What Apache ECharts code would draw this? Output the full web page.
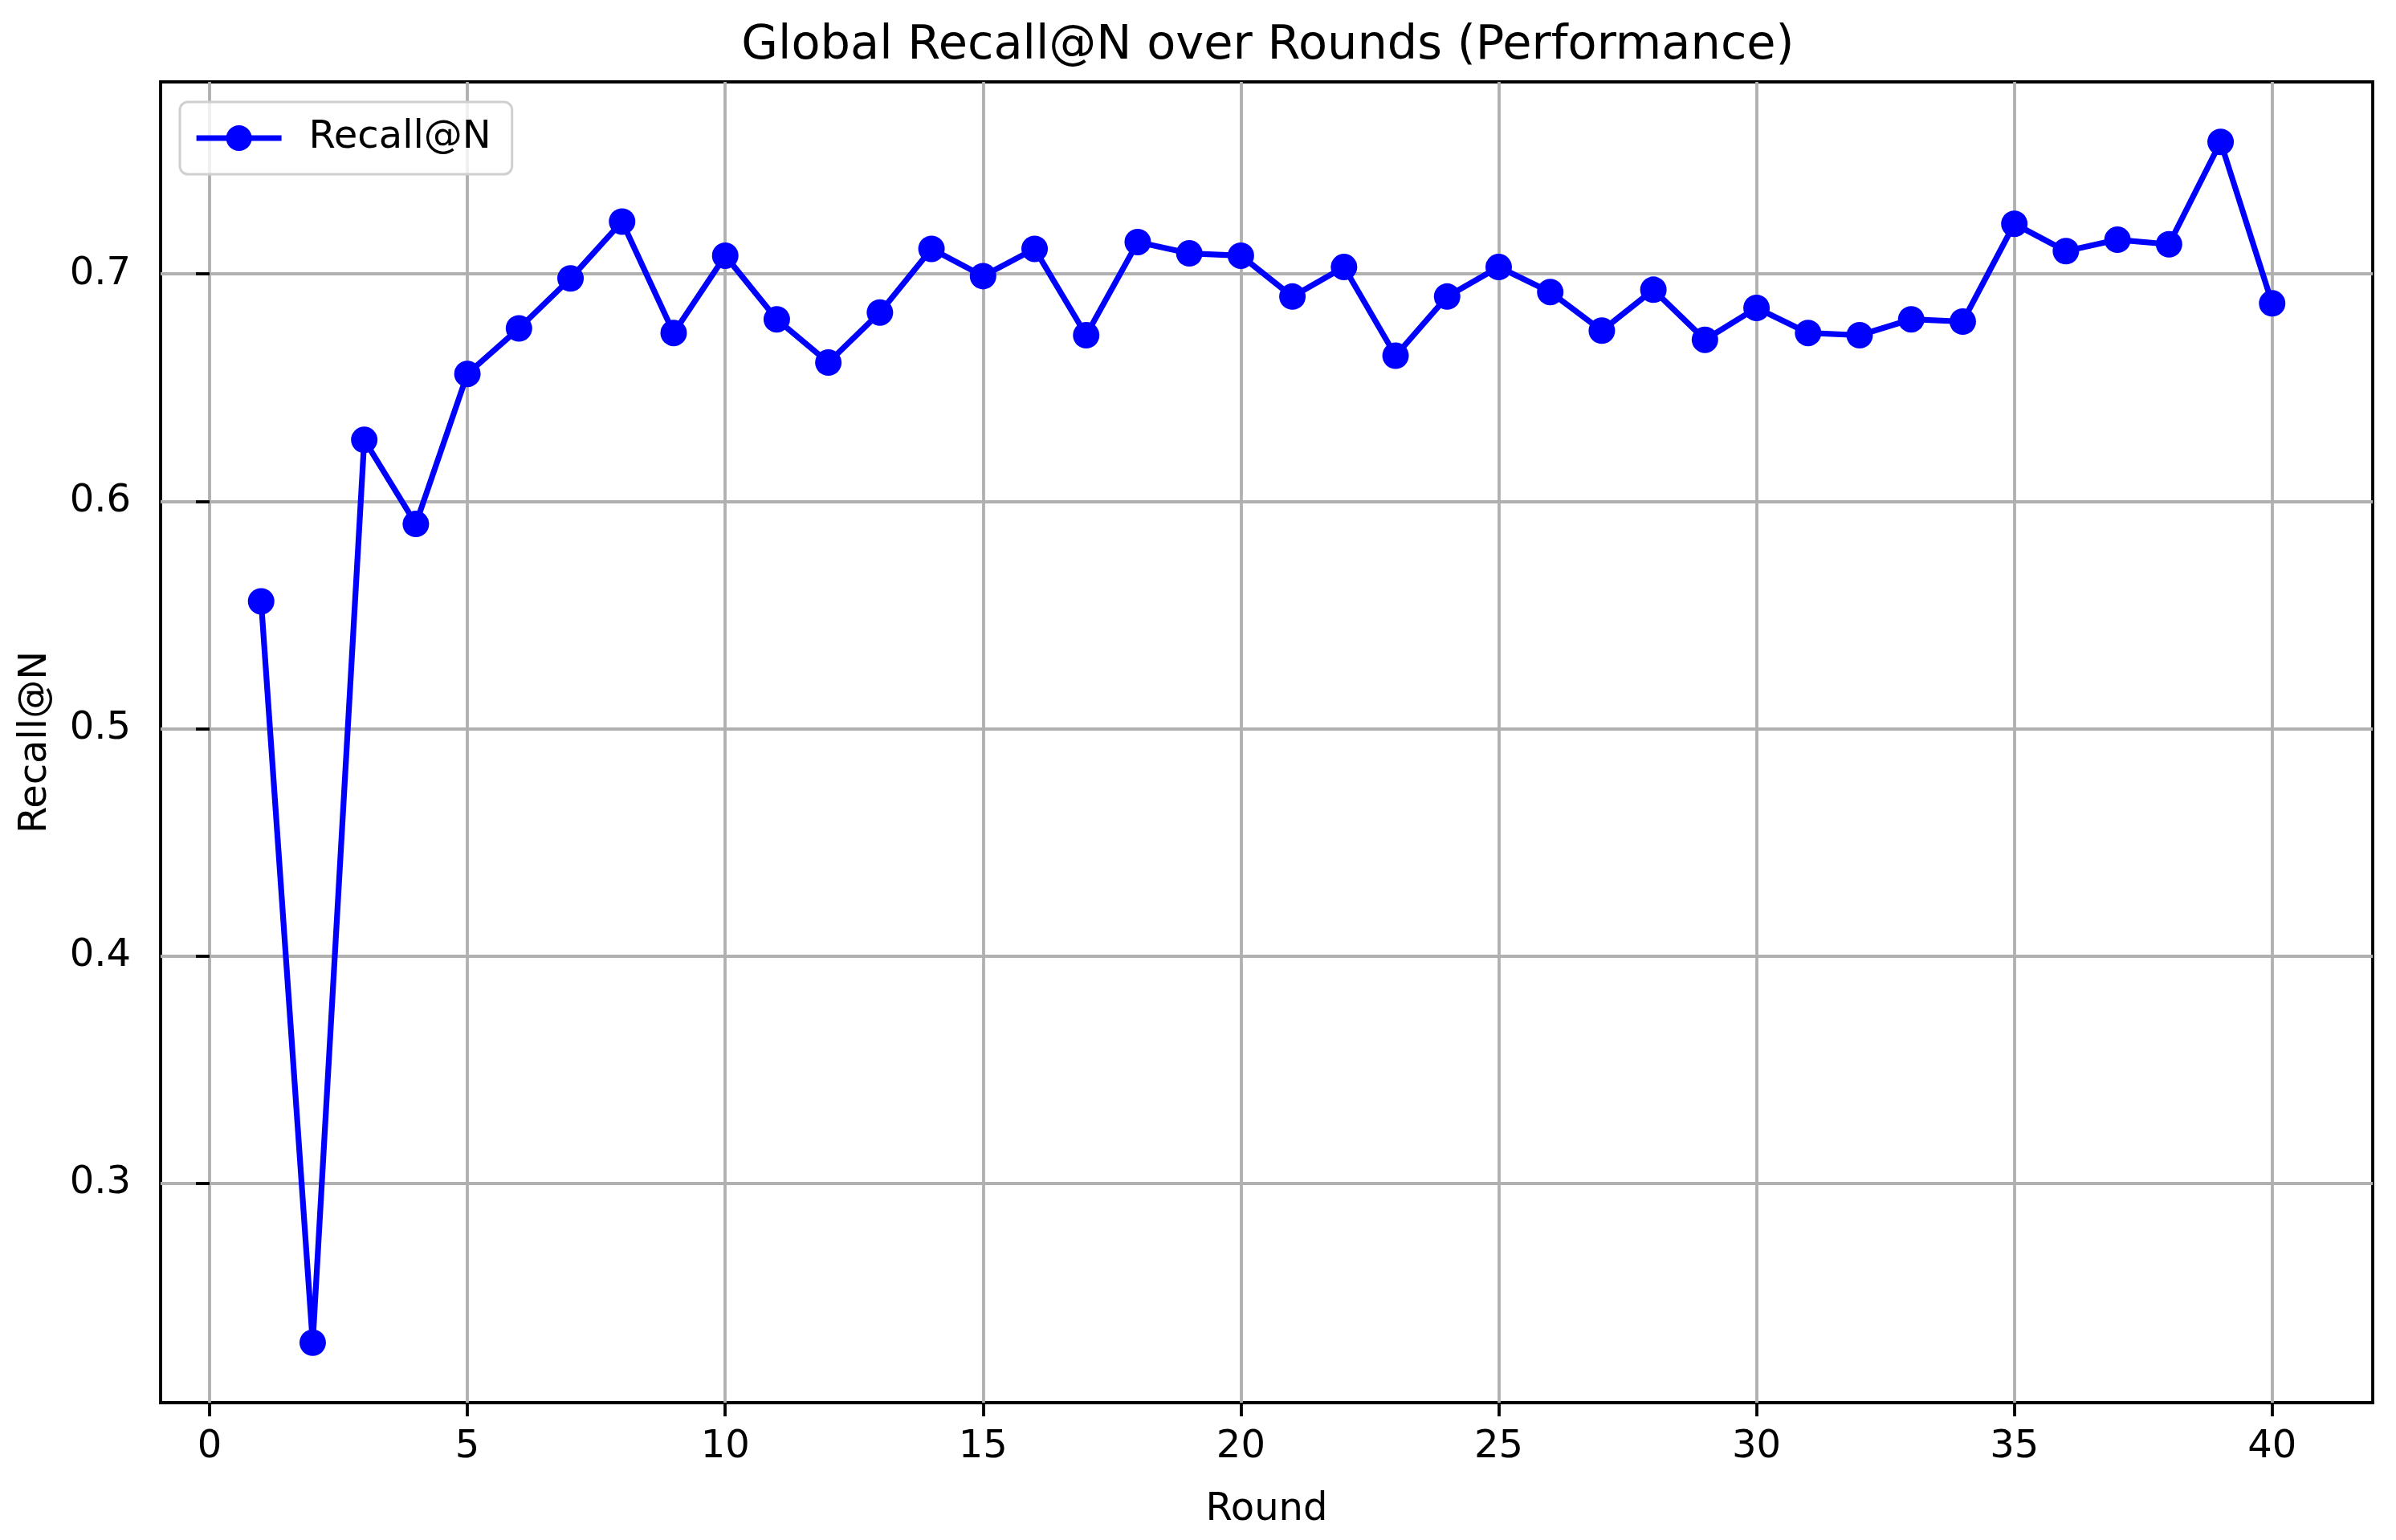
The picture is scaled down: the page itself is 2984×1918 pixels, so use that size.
<!DOCTYPE html>
<html>
<head>
<meta charset="utf-8">
<script src="https://cdn.jsdelivr.net/npm/echarts@6/dist/echarts.min.js"></script>
<style>
  html, body { margin: 0; padding: 0; background: #ffffff; }
  #chart { width: 2984px; height: 1918px; }
</style>
</head>
<body>
<div id="chart"></div>
<script>
const chartTitle = 'Global Recall@N over Rounds (Performance)';
const seriesName = 'Recall@N';
const xAxisName = 'Round';
const yAxisName = 'Recall@N';

const rounds = [1, 2, 3, 4, 5, 6, 7, 8, 9, 10,
                11, 12, 13, 14, 15, 16, 17, 18, 19, 20,
                21, 22, 23, 24, 25, 26, 27, 28, 29, 30,
                31, 32, 33, 34, 35, 36, 37, 38, 39, 40];
const recall = [0.556, 0.230, 0.627, 0.590, 0.656, 0.676, 0.698, 0.723, 0.674, 0.708,
                0.680, 0.661, 0.683, 0.711, 0.699, 0.711, 0.673, 0.714, 0.709, 0.708,
                0.690, 0.703, 0.664, 0.690, 0.703, 0.692, 0.675, 0.693, 0.671, 0.685,
                0.674, 0.673, 0.680, 0.679, 0.722, 0.710, 0.715, 0.713, 0.758, 0.687];

const xTicks = [0, 5, 10, 15, 20, 25, 30, 35, 40];
const yTicks = [0.3, 0.4, 0.5, 0.6, 0.7];

// matplotlib-like 5% autoscale margins
function padRange(arr) {
  const lo = Math.min.apply(null, arr), hi = Math.max.apply(null, arr);
  const m = (hi - lo) * 0.05;
  return [lo - m, hi + m];
}
const xr = padRange(rounds);
const yr = padRange(recall);

const FONT = 'DejaVu Sans';
const points = rounds.map((r, i) => [r, recall[i]]);

const chart = echarts.init(document.getElementById('chart'), null, { renderer: 'canvas' });
chart.setOption({
  animation: false,
  backgroundColor: '#ffffff',
  title: {
    text: chartTitle,
    left: 1574,
    textAlign: 'center',
    top: 23,
    textStyle: { fontFamily: FONT, fontSize: 59, fontWeight: 'normal', color: '#000000', lineHeight: 60 }
  },
  legend: {
    left: 224,
    top: 127,
    orient: 'vertical',
    padding: [21, 26, 21, 17],
    itemWidth: 106,
    itemHeight: 40,
    borderColor: '#d0d0d0',
    borderWidth: 3,
    borderRadius: 10,
    backgroundColor: 'rgba(255,255,255,0.8)',
    lineStyle: { width: 7.2, color: '#0000ff' },
    textStyle: { fontFamily: FONT, fontSize: 48, color: '#000000', padding: [0, 0, 0, 29] },
    data: [seriesName]
  },
  grid: {
    left: 200, right: 29, top: 102, bottom: 171,
    show: true,
    borderColor: '#000000',
    borderWidth: 3.8,
    backgroundColor: 'transparent'
  },
  xAxis: {
    type: 'value',
    min: xr[0],
    max: xr[1],
    minInterval: 5,
    maxInterval: 5,
    name: xAxisName,
    nameLocation: 'middle',
    nameGap: 110,
    nameTextStyle: { fontFamily: FONT, fontSize: 48, color: '#000000' },
    axisLine: { show: false },
    axisTick: { show: true, length: 17, customValues: xTicks, lineStyle: { color: '#000000', width: 3.8 } },
    axisLabel: {
      show: true, margin: 32, customValues: xTicks,
      fontFamily: FONT, fontSize: 48, color: '#000000',
      formatter: v => String(v)
    },
    splitLine: { show: true, lineStyle: { color: '#b0b0b0', width: 3.8 } }
  },
  yAxis: {
    type: 'value',
    min: yr[0],
    max: yr[1],
    minInterval: 0.1,
    maxInterval: 0.1,
    name: yAxisName,
    nameLocation: 'middle',
    nameGap: 131,
    nameTextStyle: { fontFamily: FONT, fontSize: 48, color: '#000000' },
    axisLine: { show: false },
    axisTick: { show: true, length: 17, customValues: yTicks, lineStyle: { color: '#000000', width: 3.8 } },
    axisLabel: {
      show: true, margin: 37, customValues: yTicks,
      fontFamily: FONT, fontSize: 48, color: '#000000',
      formatter: v => v.toFixed(1)
    },
    splitLine: { show: true, lineStyle: { color: '#b0b0b0', width: 3.8 } }
  },
  series: [{
    name: seriesName,
    type: 'line',
    data: points,
    symbol: 'circle',
    symbolSize: 33,
    showSymbol: true,
    lineStyle: { color: '#0000ff', width: 7.2 },
    itemStyle: { color: '#0000ff' },
    z: 3
  }]
});
</script>
</body>
</html>
